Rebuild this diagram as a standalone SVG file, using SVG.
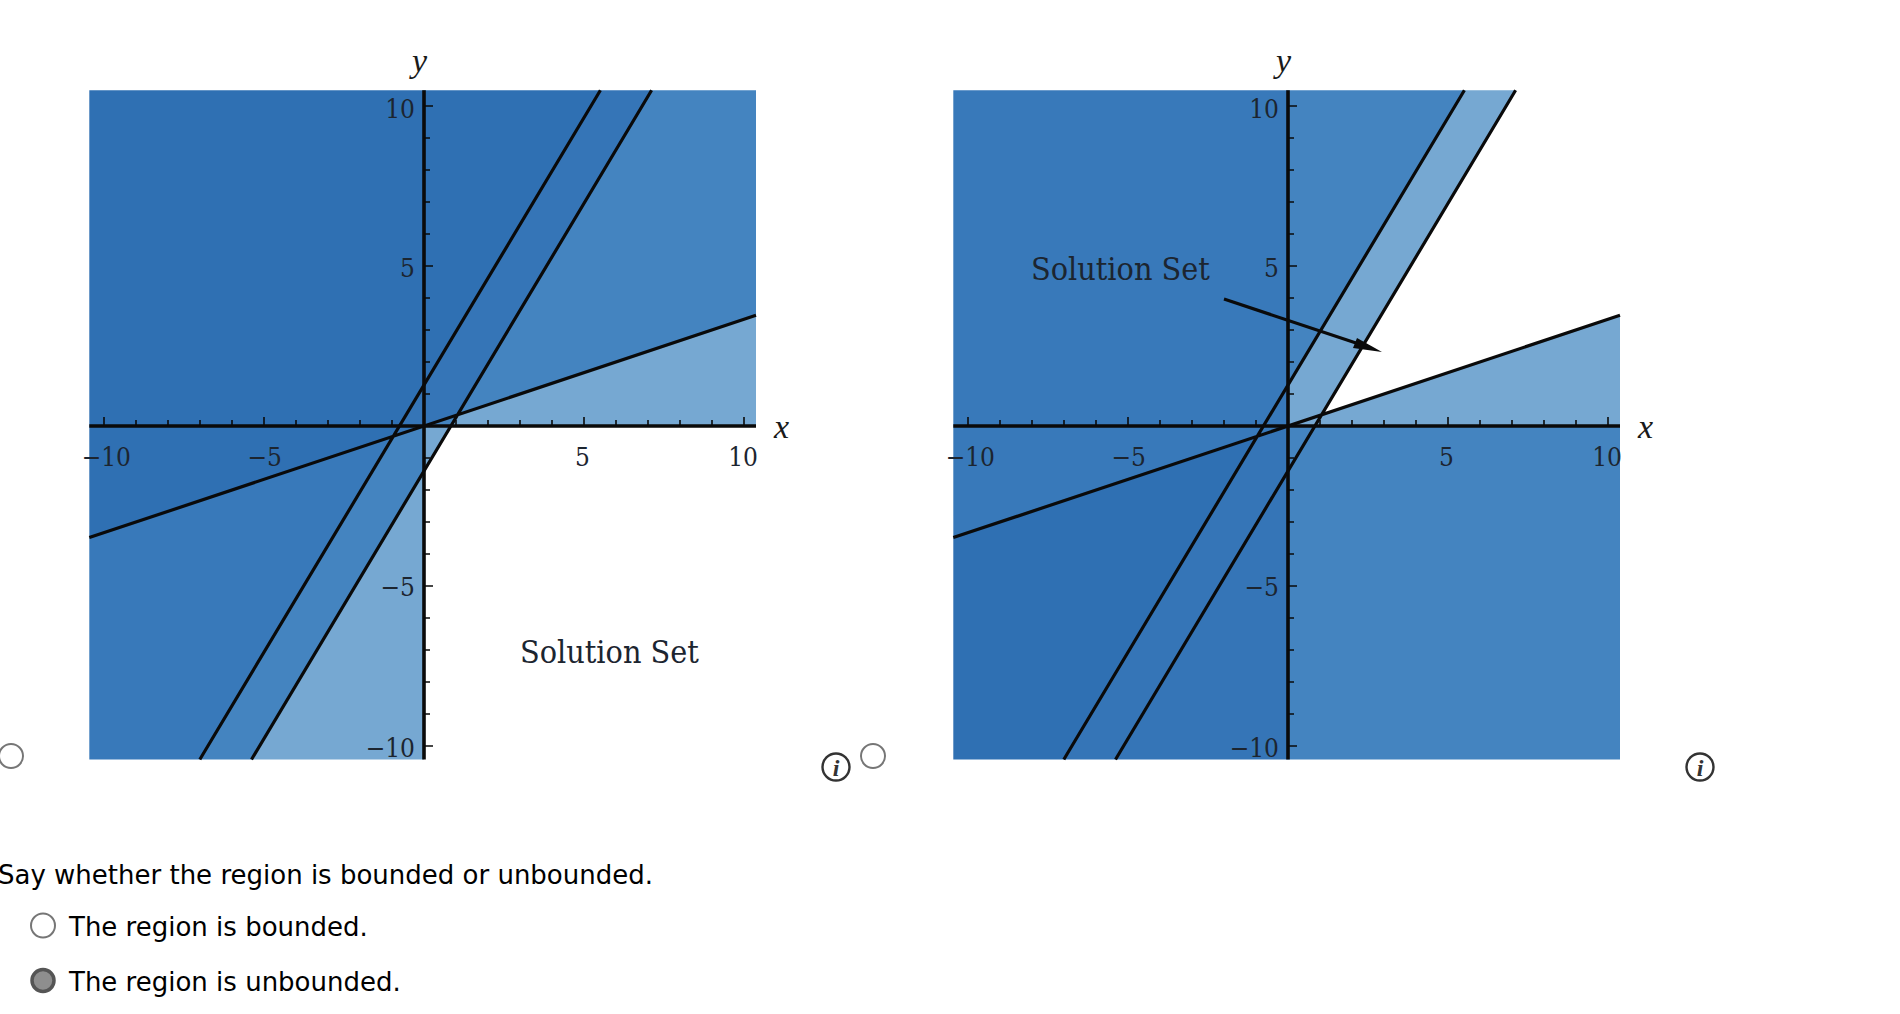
<svg xmlns="http://www.w3.org/2000/svg" width="1900" height="1014" viewBox="0 0 1900 1014">
<style>
.c1{fill:#76a8d2}.c2{fill:#4484c0}.c3{fill:#3879ba}.c4{fill:#3575b7}.c5{fill:#2f70b3}
.ln{stroke:#0a0a0a;stroke-width:3.2;fill:none}
.ax{stroke:#0a0a0a;stroke-width:3.6;fill:none}
.tk{stroke:#0a0a0a;stroke-width:1.6;fill:none}
.num{font-family:"DejaVu Serif","Liberation Serif",serif;font-stretch:condensed;font-size:26px;fill:#1c2530;text-anchor:end}
.var{font-family:"Liberation Serif",serif;font-style:italic;font-size:34px;fill:#1a1a1a}
.sol{font-family:"DejaVu Serif","Liberation Serif",serif;font-stretch:condensed;font-size:32px;fill:#1c2530}
.txt{font-family:"DejaVu Sans","Liberation Sans",sans-serif;font-size:26px;fill:#000}
.rd{fill:#fff;stroke:#767676;stroke-width:2}
.inf{font-family:"Liberation Serif",serif;font-style:italic;font-weight:bold;font-size:24px;fill:#333;text-anchor:middle}
</style>
<defs>
<g id="axes">
<path class="ln" d="M600.4 90.3L199.8 759.5M651.6 90.3L251.5 759.5M89.3 537.6L756 315.3"/>
<path class="ax" d="M89.3 426H756M424 90.3V759.5"/>
<path class="tk" d="M104 426v-9M136 426v-6M168 426v-6M200 426v-6M232 426v-6M264 426v-9M296 426v-6M328 426v-6M360 426v-6M392 426v-6M456 426v-6M488 426v-6M520 426v-6M552 426v-6M584 426v-9M616 426v-6M648 426v-6M680 426v-6M712 426v-6M744 426v-9"/>
<path class="tk" d="M424 106h9M424 138h6M424 170h6M424 202h6M424 234h6M424 266h9M424 298h6M424 330h6M424 362h6M424 394h6M424 458h6M424 490h6M424 522h6M424 554h6M424 586h9M424 618h6M424 650h6M424 682h6M424 714h6M424 746h9"/>
</g>
</defs>
<g id="plot-left">
<polygon class="c5" points="89.3,90.3 600.4,90.3 393.3,436.2 89.3,537.6"/>
<polygon class="c4" points="600.4,90.3 651.6,90.3 457.6,414.8 393.3,436.2"/>
<polygon class="c3" points="89.3,537.6 393.3,436.2 199.8,759.5 89.3,759.5"/>
<polygon class="c2" points="651.6,90.3 756,90.3 756,315.3 457.6,414.8"/>
<polygon class="c2" points="393.3,436.2 424,426 424,470.9 251.5,759.5 199.8,759.5"/>
<polygon class="c2" points="424,426 457.6,414.8 450.9,426"/>
<polygon class="c1" points="457.6,414.8 756,315.3 756,426 450.9,426"/>
<polygon class="c1" points="424,426 450.9,426 424,470.9"/>
<polygon class="c1" points="424,470.9 424,759.5 251.5,759.5"/>
<use href="#axes"/>
<text class="num" x="415" y="118">10</text>
<text class="num" x="415" y="277">5</text>
<text class="num" x="415" y="596">−5</text>
<text class="num" x="415" y="757">−10</text>
<text class="num" x="131" y="466">−10</text>
<text class="num" x="282" y="466">−5</text>
<text class="num" x="590" y="466">5</text>
<text class="num" x="758" y="466">10</text>
<text class="var" x="412" y="72">y</text>
<text class="var" x="774" y="438">x</text>
<text class="sol" x="520" y="663">Solution Set</text>
</g>
<g id="plot-right" transform="translate(864,0)">
<polygon class="c3" points="89.3,90.3 424,90.3 424,385 393.3,436.2 89.3,537.6"/>
<polygon class="c2" points="424,90.3 600.4,90.3 424,385"/>
<polygon class="c1" points="600.4,90.3 651.6,90.3 457.6,414.8 424,426 424,385"/>
<polygon class="c3" points="424,385 424,426 393.3,436.2"/>
<polygon class="c5" points="89.3,537.6 393.3,436.2 199.8,759.5 89.3,759.5"/>
<polygon class="c4" points="393.3,436.2 424,426 424,759.5 199.8,759.5"/>
<polygon class="c1" points="424,426 457.6,414.8 756,315.3 756,426"/>
<polygon class="c2" points="424,426 756,426 756,759.5 424,759.5"/>
<use href="#axes"/>
<text class="num" x="415" y="118">10</text>
<text class="num" x="415" y="277">5</text>
<text class="num" x="415" y="596">−5</text>
<text class="num" x="415" y="757">−10</text>
<text class="num" x="131" y="466">−10</text>
<text class="num" x="282" y="466">−5</text>
<text class="num" x="590" y="466">5</text>
<text class="num" x="758" y="466">10</text>
<text class="var" x="412" y="72">y</text>
<text class="var" x="774" y="438">x</text>
<text class="sol" x="167" y="280">Solution Set</text>
</g>
<g id="arrow">
<path class="ln" d="M1224 299L1356 343"/>
<polygon fill="#0a0a0a" points="1357,338 1353,348 1382,352"/>
</g>
<g id="controls">
<circle class="rd" cx="11" cy="756" r="12"/>
<circle class="rd" cx="873" cy="756" r="12"/>
<g id="info-left"><circle cx="836" cy="767" r="13.5" fill="#fff" stroke="#333" stroke-width="2.4"/><text class="inf" x="836" y="776">i</text></g>
<g id="info-right"><circle cx="1700" cy="767" r="13.5" fill="#fff" stroke="#333" stroke-width="2.4"/><text class="inf" x="1700" y="776">i</text></g>
<text class="txt" x="-2" y="884">Say whether the region is bounded or unbounded.</text>
<circle class="rd" cx="43" cy="925.5" r="12"/>
<text class="txt" x="69" y="936">The region is bounded.</text>
<circle cx="43" cy="980.5" r="11" fill="#8e8e8e" stroke="#555" stroke-width="3.5"/>
<text class="txt" x="69" y="991">The region is unbounded.</text>
</g>
</svg>
